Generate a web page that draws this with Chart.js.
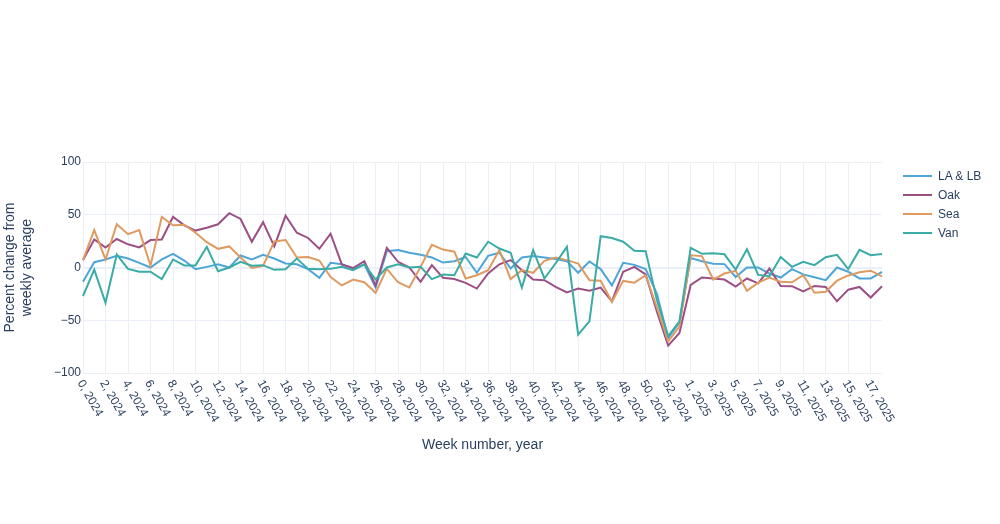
<!DOCTYPE html>
<html>
<head>
<meta charset="utf-8">
<script src="https://cdn.jsdelivr.net/npm/chart.js@4"></script>
<style>
  html, body { margin: 0; padding: 0; background: #fff; }
  #wrap { position: relative; width: 1000px; height: 524px; }
  #legend { position: absolute; left: 903px; top: 166px; font: 12px Arial, "Liberation Sans", sans-serif; color: #2a3f5f; }
  .item { display: flex; align-items: center; height: 19px; }
  .swatch { width: 29px; height: 2px; margin-right: 6px; }
</style>
</head>
<body>
<div id="wrap">
  <canvas id="chart" width="1000" height="524"></canvas>
  <div id="legend"></div>
</div>
<script>
const FONT = 'Arial, "Liberation Sans", sans-serif';
const TEXT = '#2a3f5f';
const GRID = '#ebf0f8';

const CATEGORIES = [
  '0, 2024', '1, 2024', '2, 2024', '3, 2024', '4, 2024', '5, 2024', '6, 2024', '7, 2024', '8, 2024', '9, 2024',
  '10, 2024', '11, 2024', '12, 2024', '13, 2024', '14, 2024', '15, 2024', '16, 2024', '17, 2024', '18, 2024', '19, 2024',
  '20, 2024', '21, 2024', '22, 2024', '23, 2024', '24, 2024', '25, 2024', '26, 2024', '27, 2024', '28, 2024', '29, 2024',
  '30, 2024', '31, 2024', '32, 2024', '33, 2024', '34, 2024', '35, 2024', '36, 2024', '37, 2024', '38, 2024', '39, 2024',
  '40, 2024', '41, 2024', '42, 2024', '43, 2024', '44, 2024', '45, 2024', '46, 2024', '47, 2024', '48, 2024', '49, 2024',
  '50, 2024', '51, 2024', '52, 2024',
  '0, 2025', '1, 2025', '2, 2025', '3, 2025', '4, 2025', '5, 2025', '6, 2025', '7, 2025', '8, 2025', '9, 2025',
  '10, 2025', '11, 2025', '12, 2025', '13, 2025', '14, 2025', '15, 2025', '16, 2025', '17, 2025', '18, 2025',
];

const LA_LB = [
  -13.6, 5, 7.6, 11, 8.5, 4.4, 0, 7.6, 13, 6.6,
  -1.6, 0.6, 3, 0, 11.4, 7.6, 12, 8.5, 3.8, 3,
  -1.6, -9.8, 4.4, 3, -1.3, 3, -19, 15.5, 16.5, 14,
  12, 9.5, 4.7, 6, 10, -5, 11, 14, -1, 9.5,
  10.8, 9.5, 8, 6, -5, 5.7, -1.5, -17, 4.4, 2.5,
  -1.5, -25, -67,
  -52, 9, 6, 3.5, 3.2, -9, 0, 0, -5.7, -9.5,
  -1.5, -6.5, -9.3, -12, 0, -4, -10.4, -10.4, -4.2,
];

const OAK = [
  7, 26.6, 19, 27, 22, 19, 26, 26.6, 48, 40,
  35, 37.7, 41, 51.5, 46, 24.4, 43, 20, 49, 33,
  28, 17.7, 32, 3, -0.5, 6, -17, 18.7, 5.4, 0,
  -13.6, 2.2, -9.8, -11, -14.6, -20, -5.7, 3, 7, -2.5,
  -11.4, -12, -18.4, -23.7, -20, -22, -19, -32, -4, 0.6,
  -6.6, -42, -74,
  -62, -16.5, -9.5, -10.4, -11.4, -18, -10.4, -15, -1, -17.5,
  -17.7, -22.7, -17.5, -18.4, -32, -21, -18.4, -28.5, -17.7,
];

const SEA = [
  7, 35.4, 7.6, 41, 31.6, 35.4, 1.6, 48, 40, 40.5,
  33, 24, 17.7, 20, 9.5, -0.5, 1.6, 24.7, 26, 9.5,
  10, 6.6, -9, -17, -11.4, -14, -24, -1.3, -14, -19,
  0.6, 21.5, 17, 15, -10.4, -7.3, -2.5, 16.5, -11, -2.5,
  -5, 6.3, 9.5, 7, 3.8, -12, -12.6, -32.5, -12.7, -14.4,
  -7.3, -38, -70,
  -56, 11.5, 10.8, -11.4, -5.7, -3.2, -22, -14.3, -9.5, -13.6,
  -14, -7.3, -24, -23, -12.5, -7.5, -4.5, -3, -8.5,
];

const VAN = [
  -27, -2, -33.5, 12.3, -1.3, -4, -4, -11, 7.6, 2,
  2, 19.6, -3.5, 0, 5.4, 1.6, 2.2, -2.2, -1.6, 8.5,
  -1.3, -1.6, -1.3, 0.6, -2.5, 3, -11.4, 0, 3, 0,
  0.6, -11, -6.6, -7.3, 13.3, 9.5, 24.4, 18, 14, -19,
  16.5, -10.4, 4, 19.6, -63.6, -51, 29.7, 28, 24.4, 15.8,
  15.5, -31, -65,
  -51, 18.7, 13, 13.5, 12.5, -2, 17.2, -7, -8.2, 10,
  0.6, 5.4, 2.2, 9.7, 12, -1.5, 16.7, 11.7, 12.7,
];

const Y_TICKS = [-100, -50, 0, 50, 100];

const SERIES = [
  { label: 'LA & LB', data: LA_LB, color: '#4ea6d8' },
  { label: 'Oak',     data: OAK,   color: '#9c4f84' },
  { label: 'Sea',     data: SEA,   color: '#de9a60' },
  { label: 'Van',     data: VAN,   color: '#3aaca5' },
];

// plotly-style rotated week labels + axis titles
const axisText = {
  id: 'axisText',
  afterDraw(chart) {
    const { ctx, chartArea, scales: { x } } = chart;
    ctx.save();
    ctx.fillStyle = TEXT;
    ctx.font = `12px ${FONT}`;
    ctx.textAlign = 'left';
    ctx.textBaseline = 'middle';
    CATEGORIES.forEach((lab, i) => {
      if (i % 2) return;
      ctx.save();
      ctx.translate(x.getPixelForValue(i) - 3, chartArea.bottom + 8);
      ctx.rotate(60 * Math.PI / 180);
      ctx.fillText(lab, 0, 0);
      ctx.restore();
    });
    ctx.font = `14px ${FONT}`;
    ctx.textAlign = 'center';
    ctx.fillText('Week number, year', (chartArea.left + chartArea.right) / 2, 445);
    ctx.translate(10, (chartArea.top + chartArea.bottom) / 2);
    ctx.rotate(-Math.PI / 2);
    ctx.fillText('Percent change from', 0, 0);
    ctx.fillText('weekly average', 0, 17);
    ctx.restore();
  },
};

const chart = new Chart(document.getElementById('chart'), {
  type: 'line',
  data: {
    labels: CATEGORIES,
    datasets: SERIES.map((s, i) => ({
      label: s.label,
      data: s.data,
      borderColor: s.color,
      backgroundColor: s.color,
      borderWidth: 2,
      pointRadius: 0,
      tension: 0,
      order: SERIES.length - i,
    })),
  },
  options: {
    responsive: false,
    animation: false,
    devicePixelRatio: 1,
    layout: { padding: { top: 162, right: 118, bottom: 0, left: 0 } },
    plugins: { legend: { display: false }, tooltip: { enabled: false } },
    scales: {
      x: {
        type: 'category',
        offset: false,
        ticks: { display: false },
        grid: {
          color: (c) => (c.index % 2 === 0 ? GRID : 'rgba(0,0,0,0)'),
          drawTicks: false,
        },
        border: { display: false },
        afterFit: (s) => { s.height = 151; },
      },
      y: {
        min: -100,
        max: 100,
        afterBuildTicks: (s) => { s.ticks = Y_TICKS.map(v => ({ value: v })); },
        ticks: {
          color: TEXT,
          padding: 2,
          font: { family: FONT, size: 12 },
          callback: (v) => (v < 0 ? '\u2212' + Math.abs(v) : String(v)),
        },
        grid: {
          color: GRID,
          lineWidth: (c) => (c.tick && c.tick.value === 0 ? 2 : 1),
          drawTicks: false,
        },
        border: { display: false },
        afterFit: (s) => { s.width = 83; },
      },
    },
  },
  plugins: [axisText],
});

const legend = document.getElementById('legend');
SERIES.forEach(s => {
  const row = document.createElement('div');
  row.className = 'item';
  row.innerHTML = `<span class="swatch" style="background:${s.color}"></span><span>${s.label}</span>`;
  legend.appendChild(row);
});
</script>
</body>
</html>
